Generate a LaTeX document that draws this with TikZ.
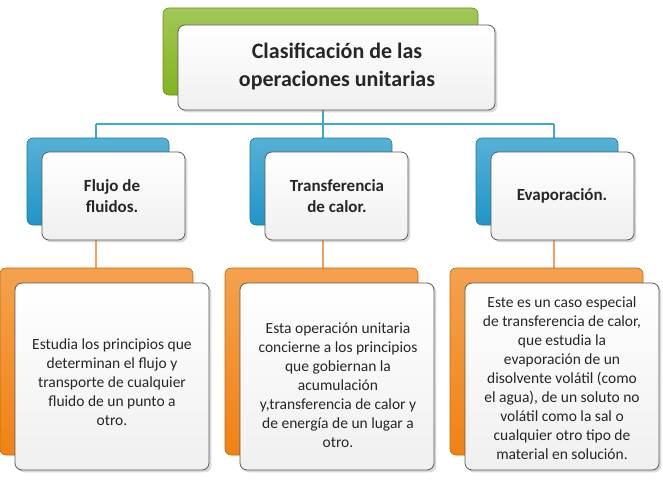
\documentclass[tikz,border=0pt]{standalone}
\usepackage{fontspec}
\setmainfont{Carlito}
\usetikzlibrary{shadows}
\definecolor{grn}{RGB}{130,180,30}
\definecolor{blu}{RGB}{30,150,200}
\definecolor{org}{RGB}{240,130,20}
\definecolor{lnb}{RGB}{60,170,200}
\definecolor{lno}{RGB}{245,160,90}
\tikzset{
 back/.style={rounded corners=6pt,draw=#1!80!black,top color=#1!75!white,bottom color=#1,line width=0.6pt},
 front/.style={rounded corners=7pt,draw=gray!70!black,line width=0.8pt,top color=white,bottom color=gray!12,drop shadow={opacity=0.3}},
 txt/.style={align=center,text=black!85}
}
\begin{document}
\begin{tikzpicture}[x=1pt,y=-1pt]
\useasboundingbox (0,0) rectangle (663,503);
% connectors
\coordinate (hL) at (96,124); \coordinate (hR) at (554,124);
\draw[lnb,line width=1.5pt] (323,110) -- (323,138);
\draw[lnb,line width=1.5pt] (hL) -- (hR);
\draw[lnb,line width=1.5pt] (hL) -- (96,138);
\draw[lnb,line width=1.5pt] (hR) -- (554,138);
\draw[lno,line width=1.5pt] (96,240) -- (96,268);
\draw[lno,line width=1.5pt] (323,240) -- (323,268);
\draw[lno,line width=1.5pt] (554,240) -- (554,268);
% top
\draw[back=grn] (163,8) rectangle (478,95);
\draw[front] (178,25) rectangle (495,110);
\node[txt,font=\fontsize{22}{28}\selectfont\bfseries] (top) at (337,66) {Clasificación de las\\operaciones unitarias};
% blue
\foreach \x/\n in {27/a,250/b,476/c}{
 \draw[back=blu] (\x,138) rectangle ++(142,87);
 \draw[front] ({\x+15},152) rectangle ++(143,88);
}
\node[txt,font=\fontsize{17}{21}\selectfont\bfseries] (f1) at (112,196) {Flujo de\\fluidos.};
\node[txt,font=\fontsize{17}{21}\selectfont\bfseries] (f2) at (337,196) {Transferencia\\de calor.};
\node[txt,font=\fontsize{17}{21}\selectfont\bfseries] (f3) at (562,196) {Evaporación.};
% orange
\foreach \x in {0,225,450}{
 \draw[back=org] (\x,268) rectangle ++(193,187);
 \draw[front] ({\x+15},283) rectangle ++(194,187);
}
\node[txt,font=\fontsize{15.5}{19}\selectfont] (o1) at (112,382) {Estudia los principios que\\determinan el flujo y\\transporte de cualquier\\fluido de un punto a\\otro.};
\node[txt,font=\fontsize{15.5}{19}\selectfont] (o2) at (338,385) {Esta operación unitaria\\concierne a los principios\\que gobiernan la\\acumulación\\y,transferencia de calor y\\de energía de un lugar a\\otro.};
\node[txt,font=\fontsize{15.5}{19}\selectfont] (o3) at (562,378) {Este es un caso especial\\de transferencia de calor,\\que estudia la\\evaporación de un\\disolvente volátil (como\\el agua), de un soluto no\\volátil como la sal o\\cualquier otro tipo de\\material en solución.};
\end{tikzpicture}
\end{document}
